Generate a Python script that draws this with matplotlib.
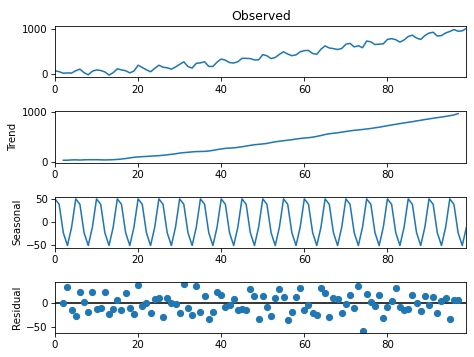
import matplotlib
matplotlib.use("Agg")
import matplotlib.pyplot as plt
import numpy as np

x_obs = list(range(100))
observed = [62, 44, 9, 15, 13, 65, 99, 21, -26, 54,
            82, 70, 38, -32, 21, 107, 82, 65, 17, 57,
            187, 136, 86, 42, 116, 186, 143, 129, 100, 147,
            206, 262, 157, 123, 229, 239, 263, 161, 159, 256,
            324, 299, 246, 236, 264, 340, 339, 334, 305, 305,
            423, 397, 334, 359, 428, 485, 435, 399, 416, 485,
            511, 516, 447, 431, 543, 616, 570, 556, 536, 559,
            654, 672, 594, 619, 576, 724, 706, 647, 655, 662,
            761, 777, 754, 701, 748, 825, 855, 791, 759, 845,
            901, 919, 835, 845, 904, 936, 979, 943, 950, 1005]

x_trend = list(range(2, 98))
trend = [33, 35, 40, 42, 38, 42, 45, 44, 45, 42,
         40, 42, 45, 50, 58, 68, 80, 92, 100, 105,
         110, 115, 120, 125, 133, 142, 152, 162, 176, 185,
         192, 200, 206, 208, 210, 218, 230, 245, 258, 270,
         275, 280, 290, 302, 315, 330, 342, 350, 358, 368,
         385, 400, 412, 422, 432, 442, 455, 466, 475, 482,
         492, 508, 525, 545, 560, 570, 580, 592, 605, 618,
         628, 636, 645, 655, 665, 678, 690, 705, 720, 735,
         748, 762, 775, 788, 800, 815, 828, 842, 855, 868,
         880, 892, 905, 918, 935, 960]

season_pattern = [50, 38, -24, -52, -12]
seasonal = [season_pattern[i % 5] for i in x_obs]

residual = [0, 32, -15, -27, 23, 3, -19, 22, -13, -10,
            22, -22, -12, 7, -14, 21, -11, -23, 37, -7,
            0, -21, 8, 11, -28, 11, 0, -3, -20, 39,
            -11, -25, 35, -19, 15, -33, -19, 23, 16, -9,
            -5, 8, -14, -12, -14, 28, 15, -33, 15, -9,
            -27, 11, 28, 13, -35, -19, 13, 31, -14, -4,
            -21, -25, 30, 21, -28, 10, 8, -21, -1, 16,
            -10, 35, -57, 19, 3, -7, 17, -31, -9, 4,
            30, -9, -15, -13, 17, 0, -17, 15, -4, 13,
            -21, 5, 11, -32, 6, 7]

dpi = 74
fig, axes = plt.subplots(4, 1, figsize=(474 / dpi, 357 / dpi), dpi=dpi)
fig.subplots_adjust(left=0.116, right=0.984, top=0.927, bottom=0.067, hspace=0.66)

c = "#1f77b4"
axes[0].plot(x_obs, observed, color=c)
axes[0].set_title("Observed")
axes[1].plot(x_trend, trend, color=c)
axes[1].set_ylabel("Trend")
axes[2].plot(x_obs, seasonal, color=c)
axes[2].set_ylabel("Seasonal")
axes[3].plot(x_trend, residual, marker="o", linestyle="none", color=c)
axes[3].axhline(0, color="#000000", zorder=-3)
axes[3].set_ylabel("Residual")

for ax in axes:
    ax.set_xlim(0, 99)

fig.savefig("out.png", dpi=dpi)
